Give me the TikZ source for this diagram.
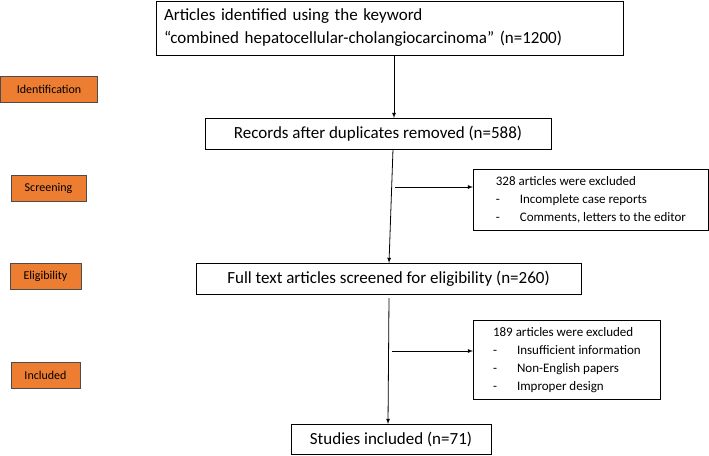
\documentclass[tikz,border=0pt]{standalone}
\usepackage{fontspec}
\setmainfont{Carlito}
\definecolor{org}{RGB}{237,125,49}
\begin{document}
\begin{tikzpicture}[x=1pt,y=-1pt,
  box/.style={draw,thick,inner sep=0pt,font=\fontsize{17}{23}\selectfont},
  ex/.style={draw,thick,inner sep=7pt,align=left,anchor=north west,font=\fontsize{13}{18}\selectfont},
  lab/.style={draw=black!70,thick,fill=org,inner sep=0pt,font=\fontsize{12}{14}\selectfont},
  arr/.style={-latex,thick}]
\useasboundingbox (0,0) rectangle (709,455);
\node[box,minimum width=467,minimum height=54,text width=451,align=left] (top) at (389.5,28)
  {Articles identified using the keyword\\``combined hepatocellular-cholangiocarcinoma'' (n=1200)};
\node[box,minimum width=346,minimum height=31] (rec) at (378,133.5) {Records after duplicates removed (n=588)};
\node[box,minimum width=385,minimum height=31] (full) at (388.5,278.5) {Full text articles screened for eligibility (n=260)};
\node[box,minimum width=200,minimum height=30] (stud) at (391,439) {Studies included (n=71)};
\node[ex,minimum width=235,minimum height=61] (ex1) at (473,169)
  {328 articles were excluded\\\makebox[24pt][l]{-}Incomplete case reports\\\makebox[24pt][l]{-}Comments, letters to the editor};
\node[ex,minimum width=187,minimum height=79] (ex2) at (473,320)
  {189 articles were excluded\\\makebox[24pt][l]{-}Insufficient information\\\makebox[24pt][l]{-}Non-English papers\\\makebox[24pt][l]{-}Improper design};
\node[lab,minimum width=97,minimum height=26] (l1) at (49,89) {Identification};
\node[lab,minimum width=75,minimum height=26] (l2) at (48.5,188) {Screening};
\node[lab,minimum width=71,minimum height=26] (l3) at (45.5,276) {Eligibility};
\node[lab,minimum width=69,minimum height=26] (l4) at (45.5,375) {Included};
\coordinate (a1) at (394,56);
\draw[arr] (a1) -- (394,118);
\coordinate (b1) at (393,149);
\coordinate (b2) at (389,263);
\draw[arr] (b1) -- (b2);
\coordinate (h1) at (395,187);
\draw[arr] (h1) -- (ex1.west |- h1);
\coordinate (c1) at (389,298);
\draw[arr] (c1) -- (388,424);
\coordinate (h2) at (392,351);
\draw[arr] (h2) -- (ex2.west |- h2);
\end{tikzpicture}
\end{document}
